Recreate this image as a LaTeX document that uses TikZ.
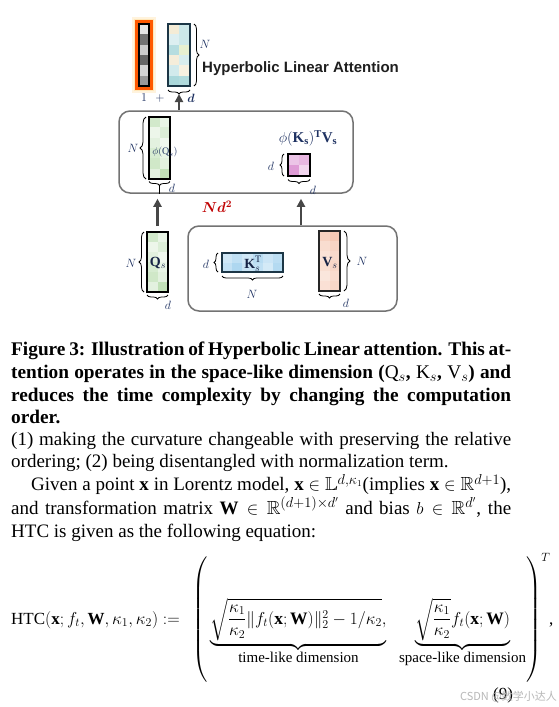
\documentclass[tikz,border=0pt]{standalone}
\usepackage{amsmath,amssymb,bm}
\usepackage{fontspec}
\setmainfont{Liberation Serif}
\newfontfamily\hsans{Liberation Sans}
\newfontfamily\cjkf{Noto Sans CJK SC}
\usetikzlibrary{arrows.meta,decorations.pathreplacing,calc}
\definecolor{lab}{HTML}{1F3262}
\definecolor{tq}{HTML}{8FCBCF}
\definecolor{bz}{HTML}{EADCB5}
\definecolor{yl}{HTML}{D9E6B0}
\definecolor{gn}{HTML}{9CCF8C}
\definecolor{pk}{HTML}{D98ACF}
\definecolor{kb}{HTML}{8CC6EA}
\definecolor{pe}{HTML}{EFA583}
\definecolor{slate}{HTML}{1C3646}
\definecolor{ndred}{HTML}{C00000}
\definecolor{glow}{HTML}{FFD27A}
\newcommand\cellgrid[6]{%
  \foreach \mcc [count=\mii from 0] in {#6}{%
    \pgfmathtruncatemacro\mcx{mod(\mii,#5)}%
    \pgfmathtruncatemacro\mcy{div(\mii,#5)}%
    \fill[\mcc] ({#1+\mcx*#3},{#2+\mcy*#4}) rectangle ++(#3,#4);}}
\newcommand\jline[1]{\makebox[500pt][s]{#1}}
\newcommand\ublabel[1]{\mbox{\fontsize{15}{17}\selectfont #1}}
\begin{document}
\begin{tikzpicture}[x=1pt,y=-1pt,
  mat/.style={draw=black, line width=1.7pt, inner sep=0pt, outer sep=0pt},
  rbox/.style={draw=black!55, line width=1.5pt, rounded corners=11pt, inner sep=0pt},
  br/.style={decorate, decoration={brace, amplitude=#1}, line width=0.8pt, draw=black},
  br/.default=4pt,
  lbl/.style={text=lab, inner sep=0pt, font=\fontsize{12}{14}\selectfont},
  arr/.style={-{Triangle[length=8pt,width=8pt]}, line width=2.4pt, draw=black!72},
  capl/.style={anchor=base west, inner sep=0pt, font=\fontsize{19.3}{23}\selectfont\bfseries},
  body/.style={anchor=base west, inner sep=0pt, font=\fontsize{19}{23}\selectfont}]
\useasboundingbox (0,0) rectangle (559,707);
\fill[white] (0,0) rectangle (559,707);

% ---------- top ----------
\fill[glow, opacity=0.25] (132,17) rectangle (156,93);
\fill[glow, opacity=0.35] (134,19) rectangle (154,91);
\draw[orange!70!red, line width=2.2pt] (136.5,21.5) rectangle (151.5,88.5);
\cellgrid{139}{24}{10}{10.333}{1}{black!10,black!55,black!20,black!60,black!17,black!40}
\node[mat, minimum width=10pt, minimum height=62pt] (G) at (144,55) {};
\cellgrid{168}{24}{11}{10.333}{2}{bz!55,tq!45,tq!30,tq!45,tq!65,yl!60,bz!50,tq!35,tq!40,bz!40,tq!75,tq!70}
\node[mat, draw=slate, minimum width=22pt, minimum height=62pt] (B) at (179,55) {};
\draw[br=5pt] (194,24) -- (194,86);
\node[lbl] (nB) at (205,44) {$N$};
\node[anchor=west, inner sep=0pt, font=\fontsize{15}{17}\selectfont\hsans\bfseries, text=black!88] (hla) at (202,69) {Hyperbolic Linear Attention};
\draw[br] (190,90) -- (168,90);
\node[lbl] (dB) at (191,98) {$\bm{d}$};
\node[lbl] (one) at (144,98) {$1$};
\node[lbl] (plus) at (160,98) {$+$};

% ---------- middle box ----------
\node[rbox, minimum width=234pt, minimum height=82pt] (M) at (236,152) {};
\cellgrid{149}{117}{10.5}{10.333}{2}{gn!45,gn!22,gn!18,gn!35,gn!28,gn!15,gn!40,gn!22,gn!48,gn!28,gn!28,gn!62}
\node[mat, minimum width=21pt, minimum height=62pt] (PQ) at (159.5,148) {};
\node[text=lab, inner sep=0pt, font=\fontsize{10}{12}\selectfont] (pqt) at (165,152) {$\phi(\mathrm{Q}_s)$};
\draw[br=6pt] (146,179) -- (146,117);
\node[lbl] (nPQ) at (133,148) {$N$};
\draw[br] (170,181.5) -- (149,181.5);
\draw[line width=0.8pt] (159.5,185.5) -- (PQ.south |- M.south);
\node[lbl] (dPQ) at (172,188) {$d$};

\node[text=lab, inner sep=0pt, font=\fontsize{15}{17}\selectfont] (hdr) at (308,138) {$\phi(\mathbf{K_s})^{\mathbf{T}}\mathbf{V_s}$};
\cellgrid{288}{154}{11}{11}{2}{pk!50,pk!62,pk!85,pk!35}
\node[mat, minimum width=22pt, minimum height=22pt] (Pk) at (299,165) {};
\draw[br] (284,176) -- (284,154);
\node[lbl] (dPk) at (271,166) {$d$};
\draw[br] (310,179.5) -- (288,179.5);
\node[lbl] (dPk2) at (313,190) {$d$};

\node[text=ndred, inner sep=0pt, font=\fontsize{14}{16}\selectfont] (nd) at (217,207) {$\bm{Nd^2}$};

% ---------- bottom ----------
\cellgrid{147}{232}{10.5}{10}{2}{gn!45,gn!22,gn!18,gn!35,gn!28,gn!15,gn!40,gn!22,gn!48,gn!28,gn!28,gn!62}
\node[mat, minimum width=21pt, minimum height=60pt] (Qs) at (157.5,262) {};
\node[text=lab!70!black, inner sep=0pt, font=\fontsize{14}{16}\selectfont] (qst) at (158,263) {$\mathbf{Q}_s$};
\draw[br=5pt] (144,292) -- (144,232);
\node[lbl] (nQ) at (131,263) {$N$};
\draw[br] (168,295) -- (147,295);
\node[lbl] (dQ) at (168,305) {$d$};

\node[rbox, minimum width=209pt, minimum height=85pt] (Bot) at (292.5,268.5) {};
\cellgrid{222}{253}{10.1667}{9.5}{6}{kb!42,kb!55,kb!42,kb!62,kb!45,kb!58,kb!52,kb!70,kb!47,kb!55,kb!37,kb!65}
\node[mat, draw=slate, minimum width=61pt, minimum height=19pt] (K) at (252.5,262.5) {};
\node[text=lab!70!black, inner sep=0pt, font=\fontsize{14}{16}\selectfont] (kt) at (253,264) {$\mathbf{K}_s^{\mathrm{T}}$};
\draw[br] (218,272) -- (218,253);
\node[lbl] (dK) at (206,264) {$d$};
\draw[br] (283,276) -- (222,276);
\node[lbl] (nK) at (252,294) {$N$};

\cellgrid{319}{231}{10.5}{10}{2}{pe!50,pe!60,pe!38,pe!48,pe!32,pe!42,pe!36,pe!45,pe!28,pe!40,pe!34,pe!44}
\node[mat, draw=black!85, minimum width=21pt, minimum height=60pt] (V) at (329.5,261) {};
\node[text=lab!70!black, inner sep=0pt, font=\fontsize{14}{16}\selectfont] (vt) at (330,263) {$\mathbf{V}_s$};
\draw[br=6pt] (344,231) -- (344,291);
\node[lbl] (nV) at (362,261) {$N$};
\draw[br] (340,294) -- (319,294);
\node[lbl] (dV) at (346,303) {$d$};

% ---------- arrows ----------
\draw[arr] (M.north -| B.south) -- ($(B.south)+(0,8)$);
\draw[arr] ($(Qs.north)+(0,-6)$) -- ($(M.south -| Qs.north)+(0,5)$);
\draw[arr] ($(Pk.south |- Bot.north)+(2,0)$) -- ($(M.south -| Pk.south)+(2,5)$);

% ---------- caption ----------
\node[capl] (c1) at (11,355) {\jline{Figure 3: Illustration of Hyperbolic Linear attention. This at-}};
\node[capl] (c2) at (11,378) {\jline{tention operates in the space-like dimension ($\mathrm{Q}_s$, $\mathrm{K}_s$, $\mathrm{V}_s$) and}};
\node[capl] (c3) at (11,401) {\jline{reduces the time complexity by changing the computation}};
\node[capl] (c4) at (11,423.5) {order.};

% ---------- body ----------
\node[body] (b1) at (11,445) {\jline{(1) making the curvature changeable with preserving the relative}};
\node[body] (b2) at (11,467.5) {ordering; (2) being disentangled with normalization term.};
\node[body] (b3) at (31,490.5) {\makebox[480pt][s]{Given a point $\mathbf{x}$ in Lorentz model, $\mathbf{x}\in\mathbb{L}^{d,\kappa_1}$(implies $\mathbf{x}\in\mathbb{R}^{d+1}$),}};
\node[body] (b4) at (11,514) {\jline{and transformation matrix $\mathbf{W}\in\mathbb{R}^{(d+1)\times d'}$ and bias $b\in\mathbb{R}^{d'}$, the}};
\node[body] (b5) at (11,537) {HTC is given as the following equation:};

% ---------- equation ----------
\node[anchor=base west, inner sep=0pt, font=\fontsize{17}{20}\selectfont] (eq1) at (11,624) {$\mathrm{HTC}(\mathbf{x}; f_t, \mathbf{W}, \kappa_1, \kappa_2) \mathrel{:=}$};
\node[anchor=base west, inner sep=0pt, font=\fontsize{17.5}{21}\selectfont] (eq2) at (192,624) {$\displaystyle \left(\rule[-57pt]{0pt}{121pt}\underbrace{\sqrt{\dfrac{\kappa_1}{\kappa_2}\|f_t(\mathbf{x};\mathbf{W})\|_2^2 - 1/\kappa_2},}_{\ublabel{time-like dimension}}\;\; \underbrace{\sqrt{\dfrac{\kappa_1}{\kappa_2}}f_t(\mathbf{x};\mathbf{W})}_{\ublabel{space-like dimension}}\right)^{T}$};
\node[anchor=base west, inner sep=0pt, font=\fontsize{17}{20}\selectfont] (comma) at (549,624) {,};
\node[anchor=base west, inner sep=0pt, font=\fontsize{17}{20}\selectfont] (eqn) at (493,699) {(9)};
\node[anchor=base east, inner sep=0pt, text=black!28, font=\fontsize{11}{12}\selectfont\cjkf] (wm) at (557,700) {CSDN @数学小达人};
\end{tikzpicture}
\end{document}
